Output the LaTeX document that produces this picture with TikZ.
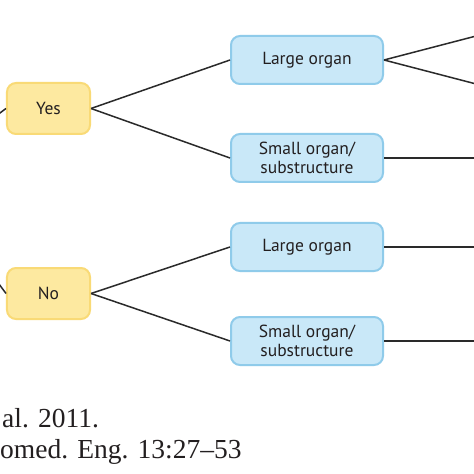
\documentclass[tikz,border=0pt]{standalone}
\usepackage{fontspec}
\setsansfont{PT Sans}
\newfontfamily\capfont{Liberation Serif}
\definecolor{yfill}{HTML}{FDE9A0}
\definecolor{ydraw}{HTML}{F9DA76}
\definecolor{bfill}{HTML}{C9E8F8}
\definecolor{bdraw}{HTML}{8FCBEA}
\definecolor{linec}{HTML}{2A2A2A}
\definecolor{txtc}{HTML}{231F20}
\begin{document}
\begin{tikzpicture}[x=1bp,y=-1bp,
  ybox/.style={draw=ydraw,fill=yfill,line width=2bp,rounded corners=9bp,
    minimum width=83bp,minimum height=51bp,inner sep=0pt,
    font=\sffamily\fontsize{17.5bp}{19bp}\selectfont,text=txtc},
  bbox/.style={draw=bdraw,fill=bfill,line width=2bp,rounded corners=9bp,
    minimum width=152bp,minimum height=48bp,inner sep=0pt,align=center,
    font=\sffamily\fontsize{17.5bp}{19bp}\selectfont,text=txtc},
  conn/.style={draw=linec,line width=1.5bp},
  captxt/.style={anchor=base west,inner sep=0pt,text=txtc,
    font=\capfont\fontsize{27.5bp}{30bp}\selectfont}]
\useasboundingbox (0,0) rectangle (474,474);
\clip (0,0) rectangle (474,474);
\fill[white] (0,0) rectangle (474,474);
\coordinate (inY) at (-4,116);
\coordinate (inN) at (-4,280);
\coordinate (o1) at (480,35);
\coordinate (o2) at (480,85);
\coordinate (o3) at (480,158);
\coordinate (o4) at (480,247);
\coordinate (o5) at (480,341);
\node[ybox] (yes) at (48.5,108.5) {Yes};
\node[ybox] (no) at (48.5,293.5) {No};
\node[bbox] (l1) at (307,60) {Large organ};
\node[bbox] (s1) at (307,158) {Small organ/\\substructure};
\node[bbox] (l2) at (307,247) {Large organ};
\node[bbox] (s2) at (307,341) {Small organ/\\substructure};
\draw[conn] (inY) -- (yes.west);
\draw[conn] (inN) -- (no.west);
\draw[conn] (yes.east) -- (l1.west);
\draw[conn] (yes.east) -- (s1.west);
\draw[conn] (no.east) -- (l2.west);
\draw[conn] (no.east) -- (s2.west);
\draw[conn] (l1.east) -- (o1);
\draw[conn] (l1.east) -- (o2);
\draw[conn] (s1.east) -- (o3);
\draw[conn] (l2.east) -- (o4);
\draw[conn] (s2.east) -- (o5);
\node[captxt] (c1) at (2,427) {al. 2011.};
\node[captxt] (c2) at (0,458) {omed. Eng. 13:27–53};
\end{tikzpicture}
\end{document}
